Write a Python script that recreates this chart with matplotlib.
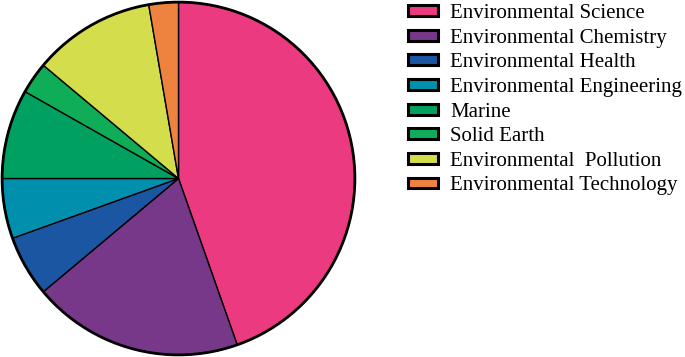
import matplotlib
matplotlib.use("Agg")
import matplotlib.pyplot as plt
from matplotlib.patches import Circle

# data (percent of total)
labels = ['Environmental Science', 'Environmental Chemistry', 'Environmental Health',
          'Environmental Engineering', 'Marine', 'Solid Earth',
          'Environmental  Pollution', 'Environmental Technology']
shares = [44.6, 19.3, 5.6, 5.5, 8.2, 2.9, 11.2, 2.7]
colors = ['#EC3A80', '#77388A', '#1B56A2', '#0090AE', '#00A160', '#10AD58', '#D4DE4C', '#EE8340']

plt.rcParams['font.family'] = ['Liberation Serif', 'DejaVu Serif']

fig = plt.figure(figsize=(6.85, 3.57), dpi=100)
ax = fig.add_axes([0, 0, 357 / 685, 1])

wedges, _ = ax.pie(shares, colors=colors, startangle=90, counterclock=False,
                   radius=1.0, wedgeprops=dict(edgecolor='black', linewidth=1.0))
ax.add_patch(Circle((0, 0), 1.0, fill=False, edgecolor='black', linewidth=2.0))
ax.set_xlim(-1.012, 1.012)
ax.set_ylim(-1.012, 1.012)
ax.set_aspect('equal')
ax.axis('off')

leg = fig.legend(wedges, labels, loc='upper left', bbox_to_anchor=(400 / 685, 1.012),
                 frameon=False, fontsize=15.0, handlelength=1.42, handleheight=0.42,
                 handletextpad=0.6, labelspacing=0.27, borderaxespad=0.0)
for h in leg.legend_handles:
    h.set_linewidth(2.2)

fig.savefig('out.png', dpi=100)
